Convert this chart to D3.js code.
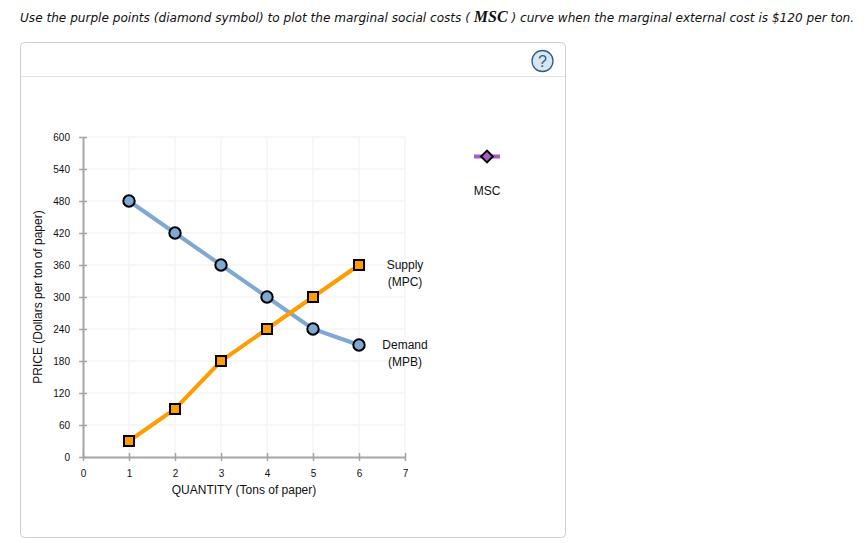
<!DOCTYPE html>
<html>
<head>
<meta charset="utf-8">
<script src="https://cdn.jsdelivr.net/npm/d3@7"></script>
<style>
body { margin: 0; background: #fff; }
svg { display: block; }
text { font-family: "Liberation Sans", Arial, sans-serif; fill: #111; }
</style>
</head>
<body>
<div id="chart"></div>
<script>
// values
const quantity = [1, 2, 3, 4, 5, 6];
const demandValues = [480, 420, 360, 300, 240, 210];
const supplyValues = [30, 90, 180, 240, 300, 360];
const xTicks = [0, 1, 2, 3, 4, 5, 6, 7];
const yTicks = [0, 60, 120, 180, 240, 300, 360, 420, 480, 540, 600];

const width = 866, height = 543;
const svg = d3.select("#chart").append("svg")
    .attr("width", width)
    .attr("height", height);

// instruction line on top
const title = svg.append("text")
    .attr("x", 20)
    .attr("y", 22)
    .style("font-family", "'DejaVu Sans', Verdana, sans-serif")
    .style("font-style", "italic")
    .style("font-size", "12.1px");
title.append("tspan").text("Use the purple points (diamond symbol) to plot the marginal social costs ( ");
title.append("tspan")
    .style("font-family", "'Liberation Serif', serif")
    .style("font-weight", "bold")
    .style("font-size", "16px")
    .text("MSC");
title.append("tspan").text(" ) curve when the marginal external cost is $120 per ton.");

// panel around the graph
svg.append("rect")
    .attr("x", 20.5).attr("y", 42.5)
    .attr("width", 545).attr("height", 495)
    .attr("rx", 4)
    .attr("fill", "#fff")
    .attr("stroke", "#cfcfcf");
svg.append("line")
    .attr("x1", 21).attr("x2", 565)
    .attr("y1", 76.5).attr("y2", 76.5)
    .attr("stroke", "#e2e2e2");

// help button
svg.append("circle")
    .attr("cx", 542.5).attr("cy", 61)
    .attr("r", 10.5)
    .attr("fill", "#d6e6f2")
    .attr("stroke", "#2f5f85")
    .attr("stroke-width", 1.3);
svg.append("text")
    .attr("x", 542.5).attr("y", 67)
    .attr("text-anchor", "middle")
    .style("font-size", "16px")
    .style("fill", "#2f5f85")
    .text("?");

const x = d3.scaleLinear().domain([0, 7]).range([83, 405]);
const y = d3.scaleLinear().domain([0, 600]).range([457, 137]);

// light grid
const g = svg.append("g");
g.selectAll(".gridV")
    .data(xTicks.slice(1))
    .join("line")
    .attr("x1", d => x(d)).attr("x2", d => x(d))
    .attr("y1", y(600)).attr("y2", y(0))
    .attr("stroke", "#f4f4f4")
    .attr("stroke-width", 1.5);
g.selectAll(".gridH")
    .data(yTicks.slice(1))
    .join("line")
    .attr("x1", x(0)).attr("x2", x(7))
    .attr("y1", d => y(d)).attr("y2", d => y(d))
    .attr("stroke", "#f4f4f4")
    .attr("stroke-width", 1.5);

// axes
const xAxis = svg.append("g")
    .attr("transform", `translate(0,${y(0)})`)
    .call(d3.axisBottom(x).tickValues(xTicks).tickFormat(d3.format("d")).tickSize(4).tickSizeOuter(0).tickPadding(9));
xAxis.selectAll(".tick line").attr("y1", -4).attr("stroke", "#a5a5a5").attr("stroke-width", 1.5);
xAxis.select(".domain").attr("stroke", "#a5a5a5").attr("stroke-width", 2);

const yAxis = svg.append("g")
    .attr("transform", `translate(${x(0)},0)`)
    .call(d3.axisLeft(y).tickValues(yTicks).tickFormat(d3.format("d")).tickSize(4).tickSizeOuter(0).tickPadding(9));
yAxis.selectAll(".tick line").attr("x1", -4).attr("x2", 4).attr("stroke", "#a5a5a5").attr("stroke-width", 1.5);
yAxis.select(".domain").attr("stroke", "#a5a5a5").attr("stroke-width", 2);
svg.selectAll(".tick text")
    .style("font-family", "'Liberation Sans', Arial, sans-serif")
    .style("font-size", "10px")
    .style("fill", "#111");

// axis titles
svg.append("text")
    .attr("x", 244).attr("y", 494)
    .attr("text-anchor", "middle")
    .style("font-size", "12px")
    .text("QUANTITY (Tons of paper)");
svg.append("text")
    .attr("transform", "translate(42,297) rotate(-90)")
    .attr("text-anchor", "middle")
    .style("font-size", "12px")
    .text("PRICE (Dollars per ton of paper)");

const line = d3.line()
    .x((d, i) => x(quantity[i]))
    .y(d => y(d));

// demand curve
svg.append("path")
    .attr("d", line(demandValues))
    .attr("fill", "none")
    .attr("stroke", "#7fa9d3")
    .attr("stroke-width", 4);
svg.selectAll(".demandPt")
    .data(demandValues)
    .join("circle")
    .attr("cx", (d, i) => x(quantity[i]))
    .attr("cy", d => y(d))
    .attr("r", 5.7)
    .attr("fill", "#7fa9d3")
    .attr("stroke", "#000")
    .attr("stroke-width", 2);

// supply curve
svg.append("path")
    .attr("d", line(supplyValues))
    .attr("fill", "none")
    .attr("stroke", "#ff9c00")
    .attr("stroke-width", 4);
svg.selectAll(".supplyPt")
    .data(supplyValues)
    .join("rect")
    .attr("x", (d, i) => x(quantity[i]) - 5)
    .attr("y", d => y(d) - 5)
    .attr("width", 10)
    .attr("height", 10)
    .attr("fill", "#ff9c00")
    .attr("stroke", "#000")
    .attr("stroke-width", 2);

// curve labels
function label(cx, top, lines) {
    svg.selectAll(null)
        .data(lines)
        .join("text")
        .attr("x", cx)
        .attr("y", (d, i) => top + i * 17)
        .attr("text-anchor", "middle")
        .style("font-size", "12px")
        .text(d => d);
}
label(405, 269, ["Supply", "(MPC)"]);
label(405, 349, ["Demand", "(MPB)"]);
label(487, 195, ["MSC"]);

// MSC palette item
svg.append("line")
    .attr("x1", 474).attr("x2", 500)
    .attr("y1", 156.5).attr("y2", 156.5)
    .attr("stroke", "#a65cc4")
    .attr("stroke-width", 4);
svg.append("path")
    .attr("d", d3.symbol(d3.symbolSquare, 70)())
    .attr("transform", "translate(487,156.5) rotate(45)")
    .attr("fill", "#a65cc4")
    .attr("stroke", "#000")
    .attr("stroke-width", 2);
</script>
</body>
</html>
